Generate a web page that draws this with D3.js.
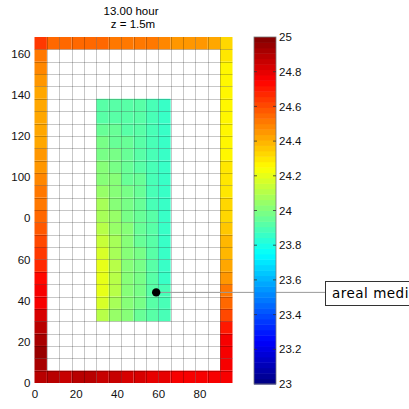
<!DOCTYPE html>
<html>
<meta charset="utf-8">
<style>
    body { margin: 0; background: #fff; }
    text { font-family: "Liberation Sans", Arial, sans-serif; }
</style>
<body>
<script src="https://d3js.org/d3.v7.min.js"></script>
<script>

    // cell size in metres, grid is 16 x 28 cells
    var cell = 6, nCols = 16, nRows = 28;

    // border temperatures (deg C)
    // left column, row 0 (bottom) to row 27 (top)
    var leftCol = [24.90, 24.92, 24.94, 24.92, 24.88, 24.83, 24.78, 24.75, 24.72, 24.68,
        24.64, 24.60, 24.57, 24.54, 24.52, 24.50, 24.48, 24.46, 24.45, 24.43,
        24.42, 24.41, 24.41, 24.42, 24.44, 24.47, 24.52, 24.63];
    // right column, row 0 (bottom) to row 27 (top)
    var rightCol = [24.75, 24.76, 24.77, 24.75, 24.70, 24.62, 24.55, 24.50, 24.46, 24.43,
        24.40, 24.38, 24.36, 24.34, 24.32, 24.31, 24.30, 24.29, 24.28, 24.27,
        24.26, 24.26, 24.26, 24.26, 24.27, 24.28, 24.31, 24.34];
    // bottom row, columns 1..14
    var bottomRow = [24.88, 24.87, 24.88, 24.88, 24.87, 24.85, 24.84, 24.82, 24.80, 24.79,
        24.78, 24.77, 24.77, 24.78];
    // top row, columns 1..14
    var topRow = [24.55, 24.55, 24.54, 24.54, 24.54, 24.53, 24.52, 24.51, 24.50, 24.48,
        24.46, 24.45, 24.44, 24.43];

    // inner block, x 30..66, y 30..138, rows listed bottom to top
    var blockX0 = 30, blockY0 = 30;
    var block = [
        [24.12, 24.06, 24.01, 23.96, 23.92, 23.88],
        [24.16, 24.08, 24.02, 23.97, 23.92, 23.88],
        [24.19, 24.10, 24.03, 23.97, 23.92, 23.88],
        [24.21, 24.11, 24.03, 23.97, 23.92, 23.87],
        [24.19, 24.10, 24.03, 23.97, 23.92, 23.87],
        [24.16, 24.09, 24.02, 23.97, 23.92, 23.87],
        [24.13, 24.07, 24.01, 23.96, 23.91, 23.87],
        [24.11, 24.06, 24.00, 23.96, 23.91, 23.86],
        [24.09, 24.04, 23.99, 23.95, 23.91, 23.86],
        [24.07, 24.03, 23.98, 23.95, 23.90, 23.86],
        [24.05, 24.01, 23.97, 23.94, 23.90, 23.86],
        [24.03, 24.00, 23.96, 23.94, 23.90, 23.86],
        [24.01, 23.98, 23.95, 23.93, 23.89, 23.86],
        [23.99, 23.97, 23.95, 23.93, 23.89, 23.85],
        [23.97, 23.96, 23.94, 23.92, 23.89, 23.85],
        [23.95, 23.94, 23.93, 23.92, 23.89, 23.86],
        [23.93, 23.93, 23.92, 23.91, 23.88, 23.86],
        [23.92, 23.92, 23.91, 23.91, 23.88, 23.86]
    ];

    // marked point (areal median)
    var medianPoint = { x: 59, y: 44, label: "areal median" };

    var xTicks = [0, 20, 40, 60, 80];
    var yTicks = [0, 20, 40, 60, 80, 100, 120, 140, 160];
    // the picture shows only the last digit of the 80 label
    var yTickLabels = ["0", "20", "40", "60", "0", "100", "120", "140", "160"];
    var cbTicks = [23, 23.2, 23.4, 23.6, 23.8, 24, 24.2, 24.4, 24.6, 24.8, 25];
    var titleLines = ["13.00 hour", "z = 1.5m"];

    // collect cells
    var cells = [];
    for (var r = 0; r < nRows; r++) {
        cells.push({ c: 0, r: r, v: leftCol[r] });
        cells.push({ c: nCols - 1, r: r, v: rightCol[r] });
    }
    bottomRow.forEach(function (v, i) { cells.push({ c: i + 1, r: 0, v: v }); });
    topRow.forEach(function (v, i) { cells.push({ c: i + 1, r: nRows - 1, v: v }); });
    block.forEach(function (row, j) {
        row.forEach(function (v, i) {
            cells.push({ c: blockX0 / cell + i, r: blockY0 / cell + j, v: v });
        });
    });

    var svg = d3.select("body").append("svg")
        .attr("width", 409)
        .attr("height", 409);

    var x = d3.scaleLinear().domain([0, nCols * cell]).range([34.5, 232.5]);
    var y = d3.scaleLinear().domain([0, nRows * cell]).range([383, 37]);

    // jet colormap, 64 levels
    var jetLin = d3.scaleLinear()
        .domain([0, 0.125, 0.375, 0.625, 0.875, 1])
        .range(["#000080", "#0000ff", "#00ffff", "#ffff00", "#ff0000", "#800000"]);
    var nLev = 64;
    function jet(v) {
        var t = (v - 23) / 2;
        var i = Math.max(0, Math.min(nLev - 1, Math.floor(t * nLev)));
        return jetLin((i + 0.5) / nLev);
    }

    // white background of the plot
    svg.append("rect")
        .attr("x", x(0)).attr("y", y(nRows * cell))
        .attr("width", x(nCols * cell) - x(0))
        .attr("height", y(0) - y(nRows * cell))
        .attr("fill", "#fff");

    svg.append("g").selectAll("rect")
        .data(cells)
        .enter().append("rect")
        .attr("x", function (d) { return x(d.c * cell); })
        .attr("y", function (d) { return y((d.r + 1) * cell); })
        .attr("width", x(cell) - x(0))
        .attr("height", y(0) - y(cell))
        .attr("fill", function (d) { return jet(d.v); });

    // cell edges
    var grid = svg.append("g").attr("stroke", "#000").attr("stroke-opacity", 0.22).attr("stroke-width", 1);
    grid.selectAll("line.v")
        .data(d3.range(1, nCols))
        .enter().append("line")
        .attr("x1", function (d) { return Math.round(x(d * cell)) + 0.5; })
        .attr("x2", function (d) { return Math.round(x(d * cell)) + 0.5; })
        .attr("y1", y(nRows * cell)).attr("y2", y(0));
    grid.selectAll("line.h")
        .data(d3.range(1, nRows))
        .enter().append("line")
        .attr("y1", function (d) { return Math.round(y(d * cell)) + 0.5; })
        .attr("y2", function (d) { return Math.round(y(d * cell)) + 0.5; })
        .attr("x1", x(0)).attr("x2", x(nCols * cell));

    // axes
    var xAxis = svg.append("g")
        .attr("transform", "translate(0," + y(0) + ")")
        .call(d3.axisBottom(x).tickValues(xTicks).tickSize(0).tickPadding(7));
    var yAxis = svg.append("g")
        .attr("transform", "translate(" + x(0) + ",0)")
        .call(d3.axisLeft(y).tickValues(yTicks).tickSize(0).tickPadding(4)
            .tickFormat(function (d, i) { return yTickLabels[i]; }));
    [xAxis, yAxis].forEach(function (a) {
        a.select(".domain").remove();
        a.selectAll("text").style("font-size", "11.5px").attr("fill", "#111");
    });

    // title
    svg.selectAll("text.title")
        .data(titleLines)
        .enter().append("text")
        .attr("class", "title")
        .attr("x", function (d, i) { return i ? 133 : 131; })
        .attr("y", function (d, i) { return 15 + i * 13; })
        .attr("text-anchor", "middle")
        .style("font-size", "11.5px")
        .text(function (d) { return d; });

    // leader line from the point to the label box (behind colorbar)
    svg.append("line")
        .attr("x1", x(medianPoint.x)).attr("x2", 326)
        .attr("y1", y(medianPoint.y)).attr("y2", y(medianPoint.y))
        .attr("stroke", "#999").attr("stroke-width", 1);

    // colorbar
    var cb = d3.scaleLinear().domain([23, 25]).range([384, 37]);
    var cbX = 254, cbW = 22;
    var levels = d3.range(nLev).map(function (i) { return 23 + 2 * i / nLev; });
    svg.append("g").selectAll("rect")
        .data(levels)
        .enter().append("rect")
        .attr("x", cbX)
        .attr("y", function (d) { return cb(d + 2 / nLev); })
        .attr("width", cbW)
        .attr("height", function (d) { return cb(d) - cb(d + 2 / nLev) + 0.5; })
        .attr("fill", function (d) { return jet(d + 1 / nLev); });
    svg.append("rect")
        .attr("x", cbX).attr("y", cb(25))
        .attr("width", cbW).attr("height", cb(23) - cb(25))
        .attr("fill", "none").attr("stroke", "#777").attr("stroke-width", 0.8);
    var cbAxis = svg.append("g")
        .attr("transform", "translate(" + (cbX + cbW) + ",0)")
        .call(d3.axisRight(cb).tickValues(cbTicks).tickSize(0).tickPadding(3)
            .tickFormat(function (d) { return d3.format("")(+d.toFixed(1)); }));
    cbAxis.select(".domain").remove();
    cbAxis.selectAll("text").style("font-size", "11.5px").attr("fill", "#111");
    // little inner ticks on both edges
    var innerTicks = cbTicks.slice(1, -1);
    svg.append("g").selectAll("path")
        .data(innerTicks)
        .enter().append("path")
        .attr("d", function (d) {
            var yy = cb(d);
            return "M" + cbX + "," + yy + "h3M" + (cbX + cbW) + "," + yy + "h-3";
        })
        .attr("stroke", "#333").attr("stroke-width", 0.8);

    // marker
    svg.append("circle")
        .attr("cx", x(medianPoint.x)).attr("cy", y(medianPoint.y))
        .attr("r", 4.2).attr("fill", "#000");

    // label box
    svg.append("rect")
        .attr("x", 325.5).attr("y", 281.5)
        .attr("width", 130).attr("height", 24)
        .attr("fill", "#fff").attr("stroke", "#333").attr("stroke-width", 1);
    svg.append("text")
        .attr("x", 332).attr("y", 298)
        .style("font-family", "'DejaVu Sans', sans-serif")
        .style("font-size", "13.5px")
        .style("letter-spacing", "0.5px")
        .text(medianPoint.label);

</script>
</body>
</html>
